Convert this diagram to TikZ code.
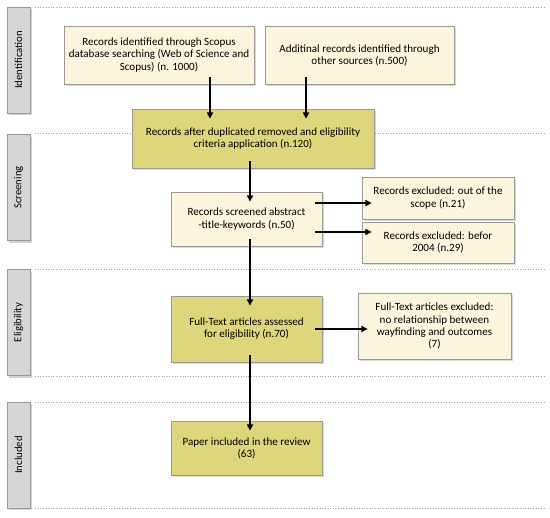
\documentclass[tikz,border=0pt]{standalone}
\usepackage{fontspec}
\setmainfont{Carlito}
\usetikzlibrary{arrows.meta,shadows}

\definecolor{creamfill}{HTML}{FBF5DD}
\definecolor{olivefill}{HTML}{DDD67A}
\definecolor{boxline}{HTML}{999999}
\definecolor{phasefill}{HTML}{D6D6D6}

\begin{document}
\begin{tikzpicture}[
  x=0.02cm, y=-0.02cm,
  lightbox/.style={rectangle, draw=boxline, fill=creamfill, line width=0.5pt,
                   align=center, inner sep=2pt, font=\fontsize{6.3}{6.9}\selectfont,
                   drop shadow={opacity=0.3, shadow xshift=0.9pt, shadow yshift=-0.9pt}},
  darkbox/.style={lightbox, fill=olivefill},
  phase/.style={rectangle, draw=boxline, fill=phasefill, line width=0.5pt, rotate=90,
                minimum width=2.12cm, minimum height=0.46cm, inner sep=1pt,
                font=\fontsize{6.1}{6.9}\selectfont,
                drop shadow={opacity=0.35, shadow xshift=1.2pt, shadow yshift=-1.2pt}},
  sepline/.style={draw=gray!70, densely dotted, line width=0.5pt},
  arr/.style={draw=black, line width=0.7pt, -{Triangle[length=3.5pt,width=3.5pt]},
              shorten <=-0.14cm, shorten >=-0.2cm},
]
\useasboundingbox (0,0) rectangle (550,517);

% ── Phase separators ───────────────────────────────────────────────────
\foreach \yy in {7,133,269,376,402,508}
  \draw[sepline] (35,\yy) -- (545,\yy);

% ── Phase labels ───────────────────────────────────────────────────────
\node[phase] (phId)  at (18.5,60)    {Identification};
\node[phase] (phScr) at (18.5,187.5) {Screening};
\node[phase] (phEl)  at (18.5,322.5) {Eligibility};
\node[phase] (phInc) at (18.5,455)   {Included};

% ── Identification ────────────────────────────────────────────────────
\node[lightbox, minimum width=3.8cm, minimum height=1.16cm] (scopus) at (159,55)
  {Records identified through Scopus\\database searching (Web of Science and\\Scopus) (n. 1000)};
\node[lightbox, minimum width=3.78cm, minimum height=1.16cm] (other) at (359.5,55)
  {Additinal records identified through\\other sources (n.500)};

% ── Screening ─────────────────────────────────────────────────────────
\node[darkbox, minimum width=4.84cm, minimum height=1.18cm] (dup) at (253,138.5)
  {Records after duplicated removed and eligibility\\criteria application (n.120)};
\node[lightbox, minimum width=3.02cm, minimum height=1.08cm] (screen) at (246.5,219)
  {Records screened abstract\\-title-keywords (n.50)};
\node[lightbox, minimum width=3.04cm, minimum height=0.84cm] (exscope) at (438,198)
  {Records excluded: out of the\\scope (n.21)};
\node[lightbox, minimum width=3.04cm, minimum height=0.82cm] (exold) at (438,242.5)
  {Records excluded: befor\\2004 (n.29)};

% ── Eligibility ───────────────────────────────────────────────────────
\node[darkbox, minimum width=3.02cm, minimum height=1.32cm] (full) at (246.5,329)
  {Full-Text articles assessed\\for eligibility (n.70)};
\node[lightbox, minimum width=3.06cm, minimum height=1.32cm] (exfull) at (434.5,326)
  {Full-Text articles excluded:\\no relationship between\\wayfinding and outcomes\\(7)};

% ── Included ──────────────────────────────────────────────────────────
\node[darkbox, minimum width=3.02cm, minimum height=1.08cm] (incl) at (246.5,448)
  {Paper included in the review\\(63)};

% ── Arrows ────────────────────────────────────────────────────────────
\draw[arr] ([xshift=1.02cm]scopus.south) -- ([xshift=1.02cm]scopus.south |- dup.north);
\draw[arr] ([xshift=-1.07cm]other.south) -- ([xshift=-1.07cm]other.south |- dup.north);
\draw[arr] ([xshift=-0.06cm]dup.south) -- ([xshift=-0.06cm]dup.south |- screen.north);
\draw[arr] ([yshift=0.32cm]screen.east) -- ([yshift=0.32cm]screen.east -| exscope.west);
\draw[arr] ([yshift=-0.26cm]screen.east) -- ([yshift=-0.26cm]screen.east -| exold.west);
\draw[arr] ([xshift=0.07cm]screen.south) -- ([xshift=0.07cm]screen.south |- full.north);
\draw[arr] (full.east) -- (full.east -| exfull.west);
\draw[arr] ([xshift=0.07cm]full.south) -- ([xshift=0.07cm]full.south |- incl.north);

\end{tikzpicture}
\end{document}
